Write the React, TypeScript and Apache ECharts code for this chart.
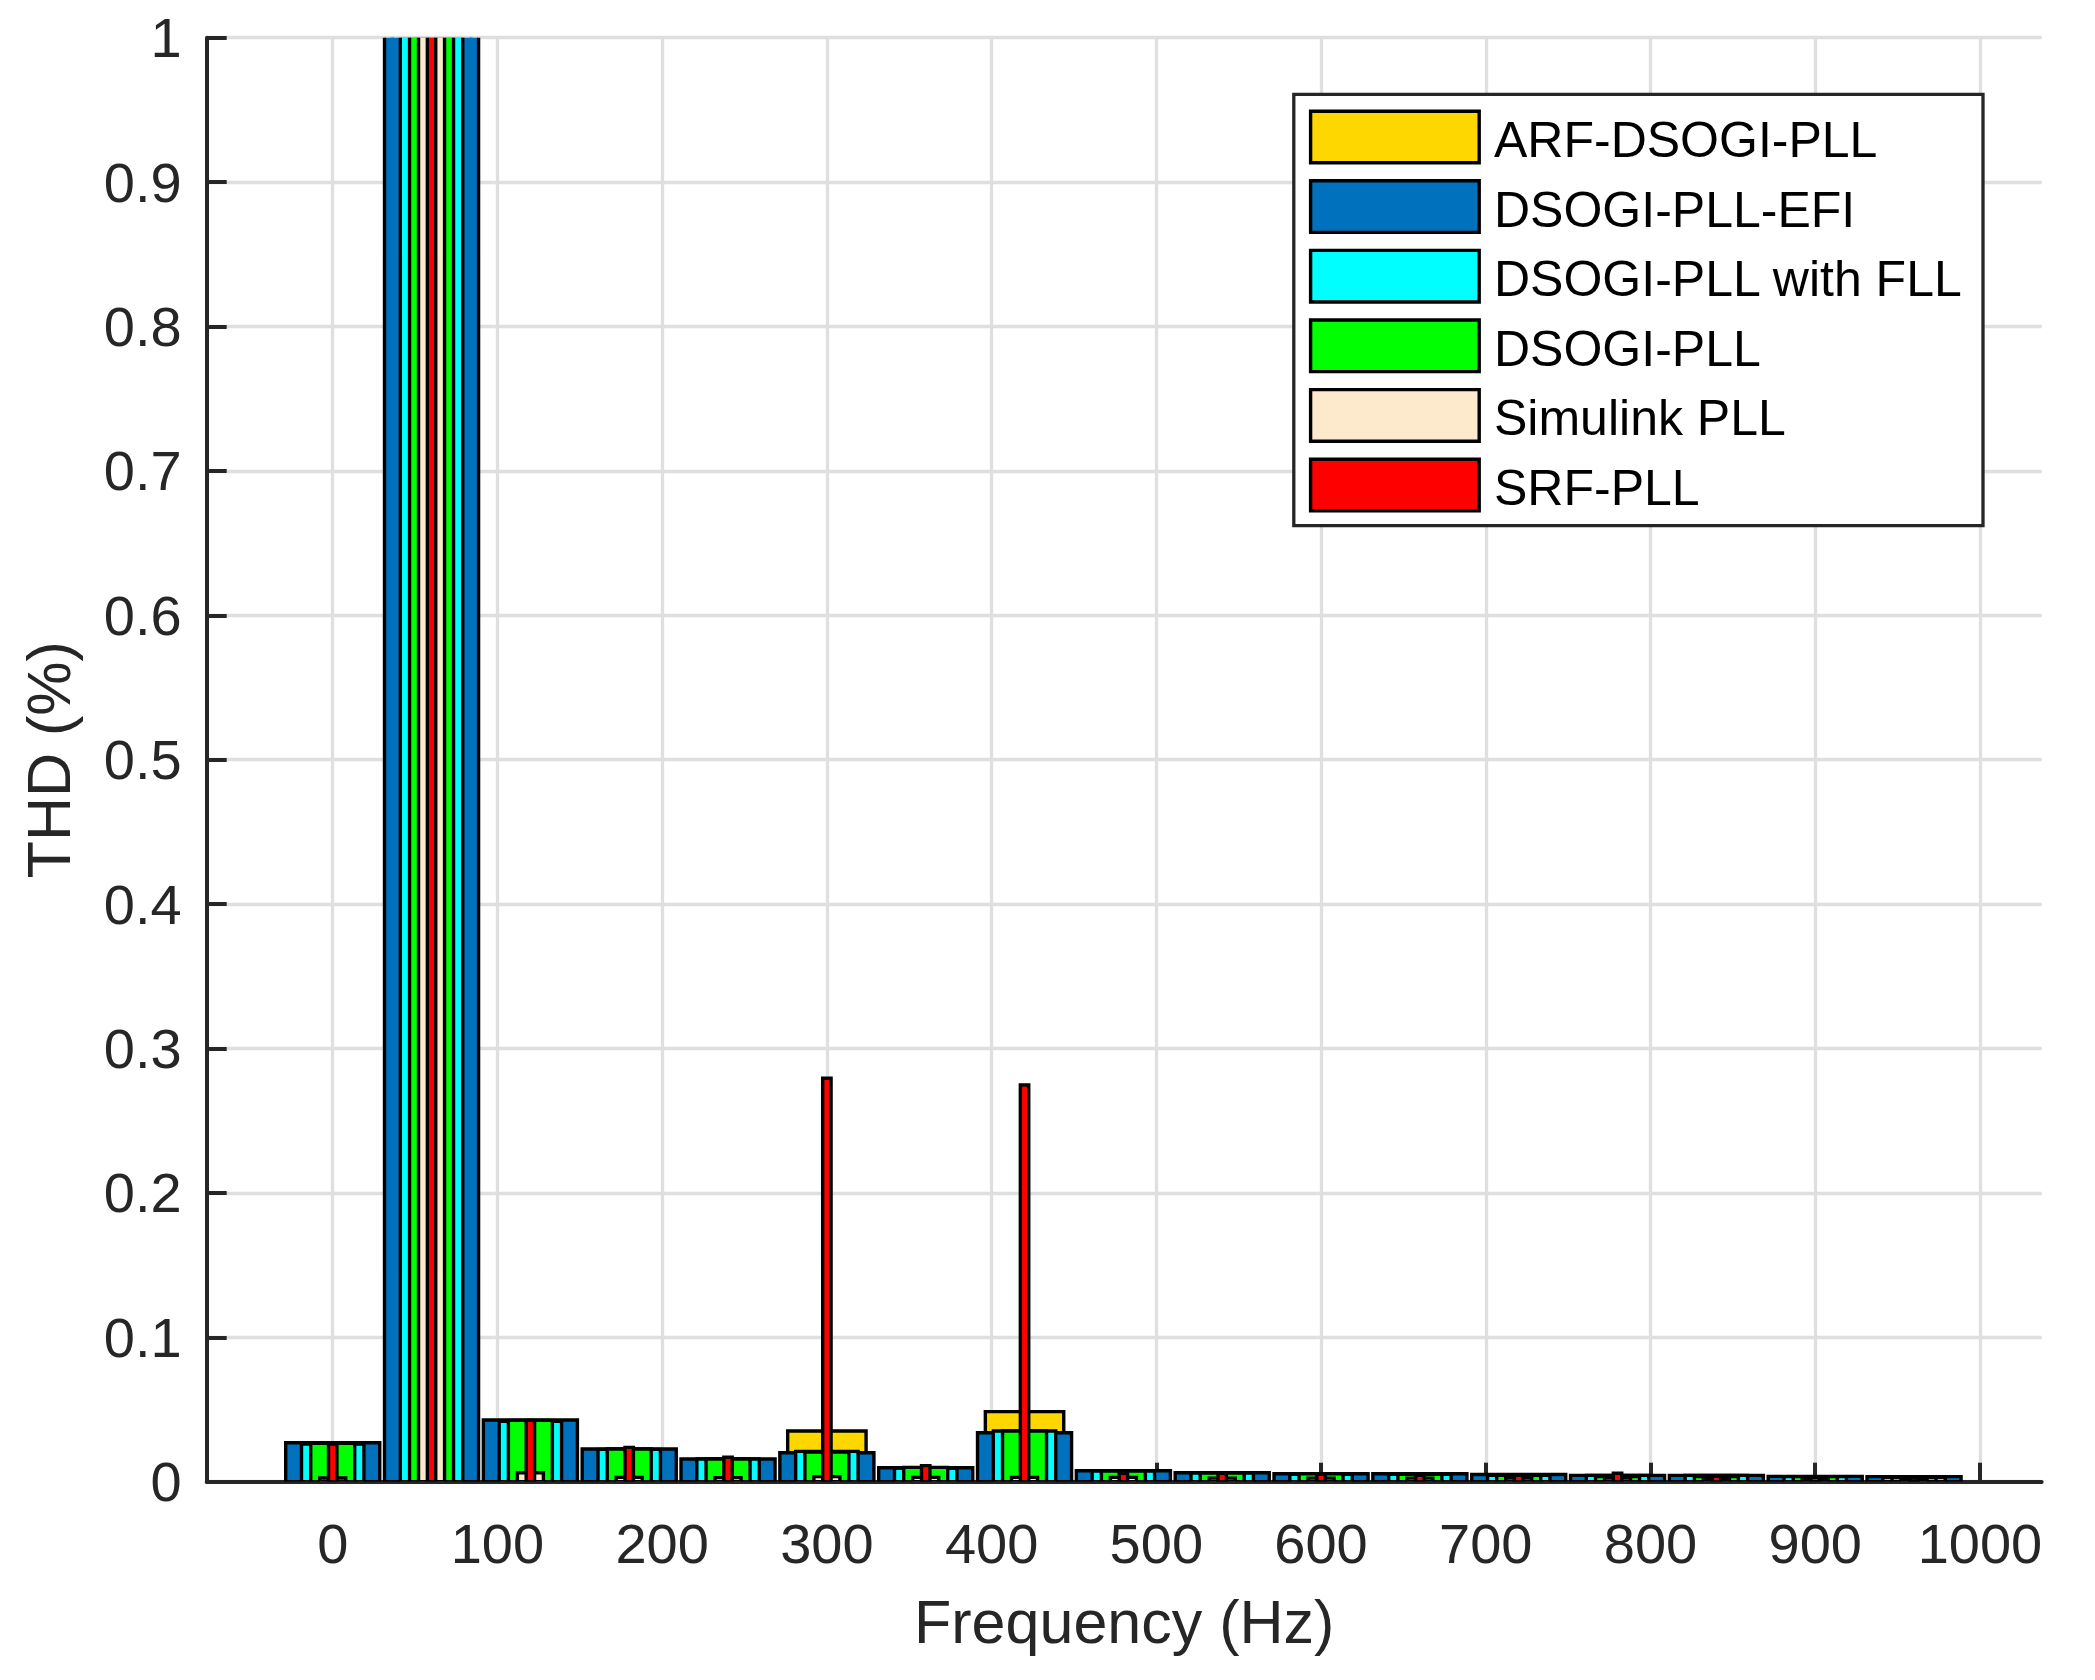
import React, { useEffect, useRef } from "react";
import * as echarts from "echarts";

// Frequency bins (Hz)
const FREQS = [0, 60, 120, 180, 240, 300, 360, 420, 480, 540, 600, 660, 720, 780, 840, 900, 960];

// THD (%) per method
const ARF_DSOGI_PLL = [0.025, 100, 0.040, 0.021, 0.015, 0.0351, 0.009, 0.0485, 0.007, 0.0058, 0.005, 0.005, 0.0045, 0.004, 0.004, 0.0034, 0.0034];
const DSOGI_PLL_EFI = [0.0270, 100, 0.0427, 0.0226, 0.0157, 0.0201, 0.0097, 0.0339, 0.0076, 0.0062, 0.0055, 0.0055, 0.0050, 0.0044, 0.0044, 0.0037, 0.0035];
const DSOGI_PLL_FLL = [0.0261, 100, 0.0418, 0.0224, 0.0157, 0.0210, 0.0093, 0.0351, 0.0074, 0.0060, 0.0051, 0.0051, 0.0044, 0.0044, 0.0044, 0.0035, 0.0030];
const DSOGI_PLL = [0.0266, 100, 0.0425, 0.0226, 0.0157, 0.0206, 0.0099, 0.0351, 0.0074, 0.0060, 0.0055, 0.0051, 0.0044, 0.0035, 0.0035, 0.0035, 0.0030];
const SIMULINK_PLL = [0.0026, 100, 0.0062, 0.0030, 0.0028, 0.0035, 0.0030, 0.0030, 0.0030, 0.0025, 0.0025, 0.0025, 0.0025, 0.0025, 0.0022, 0.0020, 0.0020];
const SRF_PLL = [0.0261, 100, 0.0425, 0.0238, 0.0169, 0.2794, 0.0111, 0.2747, 0.0058, 0.0058, 0.0051, 0.0044, 0.0044, 0.0058, 0.0037, 0.0030, 0.0025];

const SERIES_NAMES = ["ARF-DSOGI-PLL", "DSOGI-PLL-EFI", "DSOGI-PLL with FLL", "DSOGI-PLL", "Simulink PLL", "SRF-PLL"];
const SERIES_VALUES = [ARF_DSOGI_PLL, DSOGI_PLL_EFI, DSOGI_PLL_FLL, DSOGI_PLL, SIMULINK_PLL, SRF_PLL];
const SERIES_COLORS = ["#FFD700", "#0072BD", "#00FFFF", "#00FF00", "#FDEACD", "#FF0000"];
// bar widths in Hz
const SERIES_WIDTHS = [47.6, 57.1, 37.9, 26.7, 15.8, 5.1];

const X_TICKS = [0, 100, 200, 300, 400, 500, 600, 700, 800, 900, 1000];

const TEXT_COLOR = "#262626";
const FONT = "'Liberation Sans', Arial, Helvetica, sans-serif";

export default function App() {
  const ref = useRef<HTMLDivElement>(null);

  useEffect(() => {
    document.body.style.margin = "0";
    if (!ref.current) return;
    const chart = echarts.init(ref.current, undefined, { renderer: "svg" });

    const series = SERIES_NAMES.map((name, si) => ({
      type: "custom",
      name,
      clip: true,
      z: 2 + si,
      encode: { x: 0, y: 1 },
      data: FREQS.map((f, i) => [f, SERIES_VALUES[si][i]]),
      renderItem: (params: any, api: any) => {
        const x = api.value(0);
        const y = Math.min(api.value(1), 1.05);
        const w = SERIES_WIDTHS[si];
        const p0 = api.coord([x - w / 2, y]);
        const p1 = api.coord([x + w / 2, 0]);
        return {
          type: "rect",
          shape: { x: p0[0], y: p0[1], width: p1[0] - p0[0], height: p1[1] - p0[1] },
          style: { fill: SERIES_COLORS[si], stroke: "#000000", lineWidth: 3.4 },
        };
      },
    }));

    // legend drawn with graphic elements
    const legendX = 1293.8;
    const legendY = 94.3;
    const legendW = 689.2;
    const legendH = 431.4;
    const itemY0 = 137.0;
    const itemStep = 69.6;
    const legendElems: any[] = [
      {
        type: "rect",
        z: 100,
        shape: { x: legendX, y: legendY, width: legendW, height: legendH },
        style: { fill: "#ffffff", stroke: TEXT_COLOR, lineWidth: 3.3 },
      },
    ];
    SERIES_NAMES.forEach((name, i) => {
      const cy = itemY0 + i * itemStep;
      legendElems.push({
        type: "rect",
        z: 101,
        shape: { x: 1310.6, y: cy - 25.8, width: 168.6, height: 51.6 },
        style: { fill: SERIES_COLORS[i], stroke: "#000000", lineWidth: 3.4 },
      });
      legendElems.push({
        type: "text",
        z: 101,
        x: 1494,
        y: cy + 3,
        style: {
          text: name,
          fontSize: 50,
          fontFamily: FONT,
          fill: "#000000",
          textAlign: "left",
          textVerticalAlign: "middle",
        },
      });
    });

    chart.setOption({
      animation: false,
      backgroundColor: "#ffffff",
      grid: {
        left: 206.7,
        right: 53.3,
        top: 37.7,
        bottom: 198.3,
        containLabel: false,
        outerBoundsMode: "none",
      },
      xAxis: {
        type: "value",
        min: -76.5,
        max: 1037.5,
        name: "Frequency (Hz)",
        nameLocation: "middle",
        nameGap: 110,
        nameMoveOverlap: false,
        nameTextStyle: { fontSize: 61, fontFamily: FONT, color: TEXT_COLOR },
        axisLine: { show: true, onZero: false, lineStyle: { color: TEXT_COLOR, width: 4 } },
        axisTick: { show: true, inside: true, length: 19, customValues: X_TICKS, lineStyle: { color: TEXT_COLOR, width: 4 } },
        axisLabel: {
          show: true,
          customValues: X_TICKS,
          margin: 34,
          fontSize: 56,
          fontFamily: FONT,
          color: TEXT_COLOR,
          formatter: (v: number) => String(Math.round(v)),
        },
        splitLine: { show: true, lineStyle: { color: "#dfdfdf", width: 3.3 } },
      },
      yAxis: {
        type: "value",
        min: 0,
        max: 1,
        interval: 0.1,
        name: "THD (%)",
        nameLocation: "middle",
        nameGap: 127,
        nameRotate: 90,
        nameMoveOverlap: false,
        nameTextStyle: { fontSize: 61, fontFamily: FONT, color: TEXT_COLOR },
        axisLine: { show: true, onZero: false, lineStyle: { color: TEXT_COLOR, width: 4 } },
        axisTick: { show: true, inside: true, length: 20, lineStyle: { color: TEXT_COLOR, width: 4 } },
        axisLabel: {
          show: true,
          margin: 25,
          fontSize: 56,
          fontFamily: FONT,
          color: TEXT_COLOR,
          formatter: (v: number) => String(Math.round(v * 10) / 10),
        },
        splitLine: { show: true, lineStyle: { color: "#dfdfdf", width: 3.3 } },
      },
      series,
      graphic: { elements: legendElems },
    });

    return () => {
      chart.dispose();
    };
  }, []);

  return <div ref={ref} style={{ width: 2095, height: 1680 }} />;
}
